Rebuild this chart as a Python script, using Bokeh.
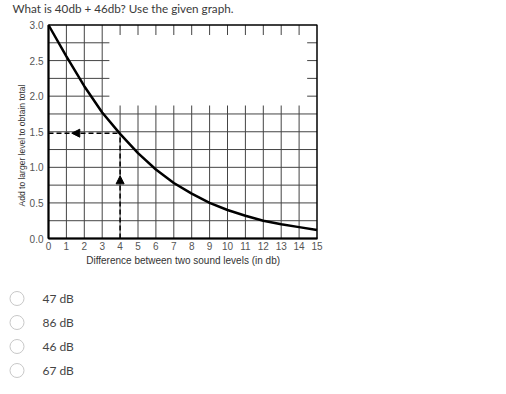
import numpy as np
from bokeh.plotting import figure
from bokeh.models import Range1d, FixedTicker, LinearAxis, Arrow, NormalHead, ColumnDataSource, CustomJSTickFormatter
from bokeh.core.properties import value
from bokeh.embed import file_html
from bokeh.resources import INLINE

# ---- data ----
question = "What is 40db + 46db? Use the given graph."
diff_db = [0, 1, 2, 3, 4, 5, 6, 7, 8, 9, 10, 11, 12, 13, 14, 15]
add_db = [3.0, 2.56, 2.14, 1.77, 1.47, 1.20, 0.97, 0.78, 0.63, 0.50, 0.40, 0.32, 0.25, 0.20, 0.16, 0.12]
x_ticks = list(range(16))
y_ticks = [0.0, 0.5, 1.0, 1.5, 2.0, 2.5, 3.0]
y_grid = [0.25 * i for i in range(13)]
read_diff = 4
read_add = 1.48
x_label = "Difference between two sound levels  (in db)"
y_label = "Add to larger level to obtain total"
options = ["47 dB", "86 dB", "46 dB", "67 dB"]

FONT = "Liberation Sans"
W, H = 506, 394

# pixel geometry of the chart frame inside the page
FX0, FX1 = 48.0, 316.5     # x = 0 .. 15
FY0, FY1 = 238.0, 24.5     # y = 0 .. 3
kx = (FX1 - FX0) / (x_ticks[-1] - x_ticks[0])
ky = (FY0 - FY1) / (y_ticks[-1] - y_ticks[0])


def px(xp):
    return (xp - FX0) / kx


def py(yp):
    return (FY0 - yp) / ky


p = figure(width=W, height=H, output_backend="svg", toolbar_location=None,
           x_range=Range1d(px(0), px(W)), y_range=Range1d(py(H), py(0)),
           x_axis_type=None, y_axis_type=None,
           min_border=0, min_border_left=0, min_border_right=0,
           min_border_top=0, min_border_bottom=0)
p.outline_line_color = None
p.background_fill_color = "white"
p.border_fill_color = "white"
p.grid.visible = False

# grid lines
gx = x_ticks[1:-1]
p.segment(x0=gx, x1=gx, y0=[y_ticks[0]] * len(gx), y1=[y_ticks[-1]] * len(gx),
          line_color="#444444", line_width=1)
gy = y_grid[1:-1]
p.segment(x0=[x_ticks[0]] * len(gy), x1=[x_ticks[-1]] * len(gy), y0=gy, y1=gy,
          line_color="#444444", line_width=1)

# blank (un-gridded) region in the upper right of the original figure
p.quad(left=[3.4], right=[14.45], bottom=[1.87], top=[2.86],
       fill_color="white", line_color=None)

# frame border (top/right)
p.quad(left=[x_ticks[0]], right=[x_ticks[-1]], bottom=[y_ticks[0]], top=[y_ticks[-1]],
       fill_color=None, line_color="black", line_width=1.5)

# curve
src = ColumnDataSource(dict(x=diff_db, y=add_db))
p.line("x", "y", source=src, line_color="black", line_width=2.5)

# dashed reading lines
p.line([0, read_diff], [read_add, read_add], line_color="black", line_width=1.5, line_dash="5 3")
p.line([read_diff, read_diff], [0, read_add], line_color="black", line_width=1.5, line_dash="5 3")
p.add_layout(Arrow(x_start=2.0, y_start=read_add, x_end=1.3, y_end=read_add,
                   line_alpha=0, end=NormalHead(size=8, fill_color="black", line_color="black")))
p.add_layout(Arrow(x_start=read_diff, y_start=0.6, x_end=read_diff, y_end=0.88,
                   line_alpha=0, end=NormalHead(size=8, fill_color="black", line_color="black")))

# axes fixed at the chart's origin
xaxis = LinearAxis(fixed_location=0, bounds=(x_ticks[0], x_ticks[-1]),
                   ticker=FixedTicker(ticks=x_ticks))
yaxis = LinearAxis(fixed_location=0, bounds=(y_ticks[0], y_ticks[-1]),
                   ticker=FixedTicker(ticks=y_ticks),
                   formatter=CustomJSTickFormatter(code="return tick.toFixed(1);"))
for ax in (xaxis, yaxis):
    ax.axis_line_color = "black"
    ax.axis_line_width = 2
    ax.major_tick_in = 0
    ax.major_tick_out = 0
    ax.minor_tick_in = 0
    ax.minor_tick_out = 0
    ax.major_label_text_font = FONT
    ax.major_label_text_font_size = "10px"
    ax.major_label_text_color = "#555555"
xaxis.major_label_standoff = 3
yaxis.major_label_standoff = 5
p.add_layout(xaxis, "below")
p.add_layout(yaxis, "left")

# texts
p.text(x=[px(12)], y=[py(7.5)], text=[question], text_font=value("Lato"),
       text_font_size="11.7px", text_color="#3a3a3a", text_baseline="alphabetic")
p.text(x=[px(184)], y=[py(260)], text=[x_label], text_font=value(FONT),
       text_font_size="10px", text_color="#333333", text_align="center", text_baseline="middle")
p.text(x=[px(21)], y=[py(145)], text=[y_label], angle=np.pi / 2, text_font=value(FONT),
       text_font_size="8.5px", text_color="#333333", text_align="center", text_baseline="middle")

# answer options
oy = [py(298 + 24 * i) for i in range(len(options))]
osrc = ColumnDataSource(dict(x=[px(16.5)] * len(options), tx=[px(42)] * len(options), y=oy, t=options))
p.scatter("x", "y", source=osrc, size=14, fill_color="white", line_color="#c8c8c8", line_width=1)
p.text("tx", "y", text="t", source=osrc, text_font=value("Lato"), text_font_size="12px",
       text_color="#444444", text_baseline="middle")

open("out.html", "w").write(file_html(p, INLINE))
